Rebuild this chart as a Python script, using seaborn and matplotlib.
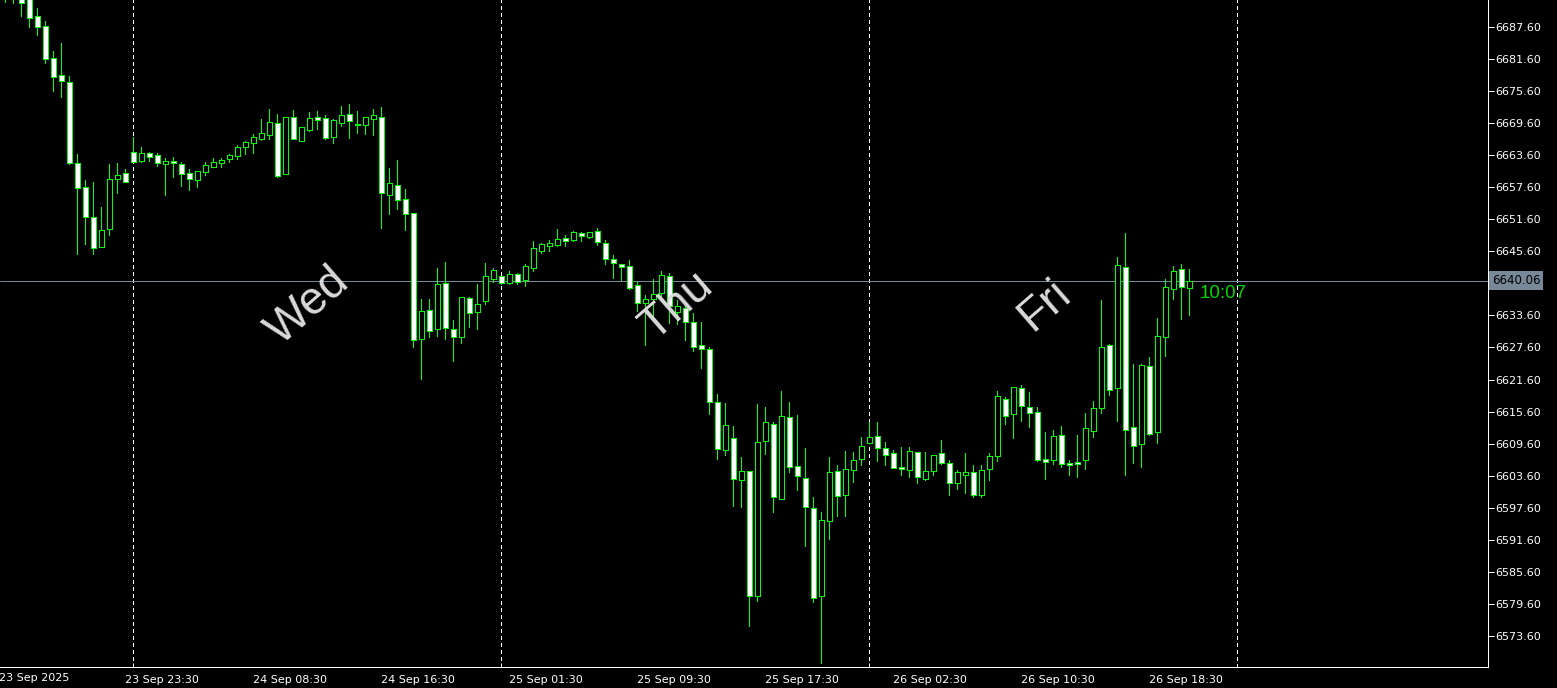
import matplotlib
matplotlib.use("Agg")
import matplotlib.pyplot as plt
import matplotlib.transforms as mtransforms
import pandas as pd
import seaborn as sns

# 30-minute candles (price units)
opens = [6697.0, 6696.0, 6695.0, 6693.0, 6689.65, 6687.8, 6681.8, 6678.6, 6677.3, 6662.1,
         6657.6, 6652.0, 6646.4, 6649.8, 6659.1, 6660.3, 6664.2, 6662.5, 6664.0, 6663.6,
         6661.95, 6662.5, 6661.95, 6660.3, 6658.95, 6660.45, 6661.4, 6662.1, 6662.9, 6663.4,
         6665.1, 6665.8, 6666.7, 6667.3, 6669.6, 6660.1, 6670.8, 6666.3, 6668.3, 6670.7,
         6670.5, 6667.05, 6669.7, 6671.25, 6669.45, 6669.3, 6670.4, 6670.7, 6656.2, 6658.1,
         6655.35, 6652.7, 6629.25, 6634.6, 6631.0, 6639.6, 6631.0, 6629.5, 6636.8, 6634.2,
         6636.35, 6640.4, 6640.9, 6639.7, 6641.3, 6640.2, 6642.55, 6645.7, 6646.65, 6646.85,
         6648.05, 6647.8, 6649.0, 6648.35, 6649.35, 6647.1, 6644.1, 6643.2, 6642.8, 6639.25,
         6635.9, 6636.75, 6637.85, 6640.9, 6634.3, 6635.05, 6632.3, 6628.0, 6627.25, 6617.35,
         6608.5, 6610.6, 6602.75, 6604.4, 6581.15, 6610.15, 6613.2, 6599.3, 6614.5, 6605.35,
         6603.1, 6597.5, 6581.15, 6595.05, 6604.4, 6600.05, 6604.6, 6606.65, 6609.8, 6611.0,
         6608.75, 6607.8, 6605.2, 6604.7, 6607.95, 6603.05, 6604.55, 6607.8, 6605.9, 6602.2,
         6603.7, 6604.25, 6600.05, 6604.9, 6607.35, 6617.9, 6615.2, 6619.95, 6616.4, 6615.5,
         6606.65, 6606.5, 6611.15, 6605.9, 6606.1, 6606.5, 6611.9, 6616.2, 6628.0, 6619.95,
         6642.6, 6612.65, 6609.45, 6624.1, 6611.7, 6629.5, 6638.5, 6642.25, 6638.7]
highs = [6699.0, 6698.0, 6696.5, 6694.0, 6691.15, 6688.7, 6683.1, 6684.6, 6678.4, 6663.8,
         6659.0, 6658.6, 6653.9, 6661.9, 6662.1, 6661.0, 6667.0, 6665.1, 6664.2, 6664.0,
         6663.1, 6663.3, 6662.3, 6661.0, 6660.6, 6662.3, 6663.1, 6663.1, 6663.8, 6665.5,
         6666.3, 6667.5, 6670.3, 6672.25, 6671.3, 6670.7, 6672.1, 6668.8, 6671.6, 6671.9,
         6671.1, 6670.3, 6672.8, 6673.2, 6671.9, 6670.7, 6672.25, 6672.6, 6661.2, 6662.7,
         6657.2, 6652.7, 6636.7, 6636.7, 6642.4, 6643.6, 6632.75, 6637.1, 6637.1, 6639.5,
         6643.35, 6642.5, 6641.0, 6641.9, 6641.5, 6643.2, 6647.5, 6647.2, 6647.7, 6649.8,
         6648.6, 6649.45, 6649.2, 6649.15, 6649.9, 6647.7, 6644.85, 6643.2, 6644.0, 6640.1,
         6637.45, 6640.35, 6641.9, 6641.5, 6636.5, 6635.9, 6634.0, 6632.35, 6627.6, 6618.9,
         6617.2, 6612.85, 6607.1, 6604.5, 6617.0, 6616.45, 6613.6, 6619.45, 6617.4, 6614.9,
         6608.8, 6599.6, 6596.75, 6607.15, 6605.6, 6608.2, 6608.0, 6610.85, 6613.65, 6613.65,
         6609.9, 6608.4, 6608.9, 6608.9, 6607.95, 6608.0, 6607.4, 6610.3, 6606.55, 6604.6,
         6607.85, 6605.6, 6605.55, 6607.85, 6619.45, 6618.35, 6620.15, 6620.6, 6619.25, 6616.4,
         6611.75, 6612.15, 6612.85, 6606.55, 6611.15, 6615.3, 6617.5, 6636.45, 6628.25, 6644.5,
         6648.95, 6624.45, 6624.45, 6625.9, 6633.05, 6640.35, 6642.8, 6643.2, 6642.25]
lows = [6692.3, 6692.1, 6689.7, 6687.6, 6686.1, 6680.85, 6675.6, 6674.5, 6662.0, 6645.1,
        6647.0, 6645.1, 6646.4, 6648.7, 6656.5, 6658.6, 6662.3, 6662.3, 6662.5, 6661.6,
        6656.2, 6659.5, 6657.8, 6657.1, 6657.6, 6659.9, 6661.4, 6661.4, 6662.3, 6662.9,
        6663.8, 6663.95, 6666.4, 6666.6, 6659.6, 6660.1, 6666.7, 6666.3, 6668.1, 6668.5,
        6666.6, 6665.95, 6669.1, 6666.9, 6667.7, 6667.6, 6667.4, 6650.05, 6652.6, 6653.6,
        6649.65, 6627.7, 6621.7, 6629.6, 6629.8, 6629.25, 6625.1, 6628.4, 6631.4, 6631.0,
        6635.7, 6639.9, 6639.4, 6639.5, 6639.5, 6639.1, 6642.0, 6645.35, 6645.7, 6646.65,
        6646.65, 6647.5, 6647.6, 6648.1, 6646.85, 6643.3, 6640.65, 6640.3, 6638.6, 6634.5,
        6628.1, 6632.75, 6637.1, 6632.25, 6632.0, 6629.0, 6627.0, 6623.8, 6615.15, 6606.7,
        6607.4, 6598.0, 6597.8, 6575.5, 6580.2, 6607.7, 6596.85, 6599.3, 6604.35, 6601.0,
        6590.5, 6580.0, 6568.6, 6591.75, 6596.1, 6596.05, 6602.4, 6605.65, 6609.8, 6606.4,
        6605.65, 6605.1, 6603.7, 6603.35, 6602.3, 6602.8, 6603.7, 6605.8, 6600.05, 6601.2,
        6600.3, 6599.7, 6599.7, 6602.8, 6606.4, 6613.35, 6610.7, 6613.9, 6612.8, 6606.4,
        6603.05, 6605.75, 6605.2, 6603.65, 6603.3, 6604.9, 6610.8, 6615.3, 6618.65, 6613.9,
        6603.65, 6605.9, 6605.2, 6611.15, 6609.65, 6625.95, 6636.75, 6632.9, 6633.75]
closes = [6693.5, 6693.0, 6692.15, 6689.3, 6687.6, 6681.6, 6678.25, 6677.5, 6662.1, 6657.5,
          6652.0, 6646.2, 6649.6, 6659.1, 6659.9, 6658.6, 6662.3, 6664.0, 6663.3, 6662.1,
          6662.5, 6662.1, 6660.1, 6659.1, 6660.6, 6661.8, 6662.3, 6662.7, 6663.6, 6665.1,
          6666.1, 6666.95, 6667.7, 6669.75, 6659.75, 6670.7, 6666.7, 6668.8, 6670.5, 6670.25,
          6666.9, 6670.15, 6671.05, 6669.95, 6669.2, 6670.7, 6671.05, 6656.5, 6658.3, 6655.15,
          6652.5, 6628.95, 6634.4, 6630.6, 6639.4, 6631.2, 6629.5, 6637.0, 6634.0, 6635.7,
          6640.9, 6642.1, 6639.6, 6641.3, 6639.8, 6642.8, 6646.15, 6646.9, 6647.1, 6647.9,
          6647.6, 6649.2, 6648.5, 6649.15, 6647.4, 6644.2, 6643.35, 6642.6, 6638.8, 6636.0,
          6636.6, 6637.55, 6641.1, 6635.4, 6635.3, 6632.3, 6627.75, 6627.25, 6617.45, 6608.65,
          6613.1, 6602.9, 6604.4, 6581.0, 6610.0, 6613.6, 6599.7, 6614.7, 6605.2, 6603.5,
          6597.8, 6580.8, 6595.25, 6604.25, 6599.85, 6604.8, 6606.5, 6609.1, 6610.8, 6608.75,
          6607.4, 6605.1, 6604.9, 6608.15, 6603.4, 6604.4, 6607.4, 6606.05, 6602.2, 6604.25,
          6604.25, 6599.95, 6604.6, 6607.25, 6618.5, 6614.85, 6620.15, 6616.7, 6615.3, 6606.6,
          6606.1, 6610.95, 6605.75, 6605.55, 6605.75, 6612.5, 6616.2, 6627.65, 6619.6, 6643.0,
          6612.1, 6609.1, 6624.25, 6611.35, 6629.7, 6638.85, 6641.85, 6638.85, 6640.06]

bid_price = 6640.06
timer_text = "10:07"
price_ticks = [6573.60 + 6 * k for k in range(20)]
time_tick_bars = [15, 31, 47, 63, 79, 95, 111, 127, 143]
time_tick_labels = ["23 Sep 23:30", "24 Sep 08:30", "24 Sep 16:30", "25 Sep 01:30",
                    "25 Sep 09:30", "25 Sep 17:30", "26 Sep 02:30", "26 Sep 10:30",
                    "26 Sep 18:30"]
first_label = "23 Sep 2025"
day_start_bars = [16, 62, 108, 154]
day_names = ["Wed", "Thu", "Fri"]

df = pd.DataFrame({"open": opens, "high": highs, "low": lows, "close": closes})
df["bar"] = range(len(df))
df["bull"] = df["close"] > df["open"]
df["bottom"] = df[["open", "close"]].min(axis=1)
df["height"] = (df["close"] - df["open"]).abs()

sns.set_theme(style="dark", rc={"axes.facecolor": "black", "figure.facecolor": "black",
                                "savefig.facecolor": "black"})
plt.rcParams["font.family"] = ["DejaVu Sans"]

LIME = "#00ff00"
W, H = 1557, 688
fig = plt.figure(figsize=(W / 100, H / 100), dpi=100)
ax = fig.add_axes([0, 21 / H, 1488 / W, 667 / H])
ax.set_facecolor("black")

px = 72 / 100  # one pixel in points

# wicks
ax.vlines(df["bar"], df["low"], df["high"], color=LIME, lw=px, zorder=3,
          antialiased=False)
# bodies: bull hollow (black), bear filled white
ax.bar(df["bar"], df["height"], bottom=df["bottom"], width=0.6,
       color=["black" if b else "white" for b in df["bull"]],
       edgecolor=LIME, linewidth=px, zorder=4, antialiased=False)

# day separators
for b in day_start_bars:
    ax.axvline(b, color="white", lw=px, ls=(0, (4, 3)), zorder=2, antialiased=False)

# bid line
ax.axhline(bid_price, color="#778899", lw=px, zorder=2.5)

# weekday labels
for b, name in zip(day_start_bars, day_names):
    ax.text(b + 21.9, 6635.4, name, rotation=41, ha="center", va="center",
            fontsize=33, color="#dadada", family="Liberation Sans", zorder=5,
            rotation_mode="anchor")

# candle timer
ax.text(len(df) + 0.3, 6637.8, timer_text, ha="left", va="center", fontsize=13.5,
        color="#00d800", family="Liberation Sans", zorder=5)

ax.set_xlim(-0.6625, 185.34)
ax.set_ylim(6567.79, 6692.65)

ax.yaxis.tick_right()
ax.set_yticks(price_ticks)
# the tick right under the bid tag is hidden by it, as on the original
ax.set_yticklabels(["" if abs(p - bid_price) < 3 else f"{p:.2f}" for p in price_ticks])
ax.set_xticks(time_tick_bars)
ax.set_xticklabels(time_tick_labels, ha="left")
ax.set_xticks(day_start_bars[:3], minor=True)
ax.tick_params(axis="both", which="major", colors="white", labelsize=8,
               direction="out", length=4, width=px, pad=1)
ax.tick_params(axis="x", which="major", pad=2)
ax.tick_params(axis="x", which="minor", direction="in", length=3, width=px,
               colors="white", bottom=True)
ax.grid(False)
for side in ["left", "top"]:
    ax.spines[side].set_visible(False)
for side in ["right", "bottom"]:
    ax.spines[side].set_visible(True)
    ax.spines[side].set_color("white")
    ax.spines[side].set_linewidth(px)

# first date label at the left edge
trans = mtransforms.blended_transform_factory(ax.transAxes, ax.transAxes)
ax.text(-0.001, -0.009, first_label, transform=trans, ha="left", va="top",
        fontsize=8, color="white", clip_on=False)

# bid price tag on the price scale
trans_y = mtransforms.blended_transform_factory(ax.transAxes, ax.transData)
ax.text(1.0025, bid_price, f"{bid_price:.2f}", transform=trans_y, ha="left",
        va="center", fontsize=8.5, color="black", clip_on=False, zorder=10,
        bbox=dict(boxstyle="square,pad=0.25", facecolor="#778899", edgecolor="none"))

fig.savefig("out.png", dpi=100, facecolor="black")
